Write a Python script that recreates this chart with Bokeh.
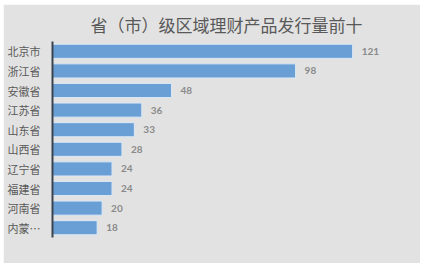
from bokeh.plotting import figure
from bokeh.models import ColumnDataSource, LabelSet, Range1d
from bokeh.core.properties import value
from bokeh.embed import file_html
from bokeh.resources import INLINE

categories = ["北京市", "浙江省", "安徽省", "江苏省", "山东省", "山西省", "辽宁省", "福建省", "河南省", "内蒙…"]
values = [121, 98, 48, 36, 33, 28, 24, 24, 20, 18]
title_text = "省（市）级区域理财产品发行量前十"

FONT = "Noto Sans CJK SC"
BG = "#e2e2e2"

src = ColumnDataSource(dict(cat=categories, val=values, lbl=[str(v) for v in values]))

p = figure(
    width=417, height=259,
    y_range=list(reversed(categories)),
    x_range=Range1d(0, 140.3),
    output_backend="svg", toolbar_location=None,
    min_border_left=49, min_border_right=20, min_border_top=36, min_border_bottom=26,
    background_fill_color=BG, border_fill_color=BG,
    outline_line_color=BG, outline_line_width=2,
)
p.margin = (4, 2, 4, 3)

p.title.text = title_text
p.title.align = "center"
p.title.text_font = FONT
p.title.text_font_size = "17px"
p.title.text_font_style = "normal"
p.title.text_color = "#595959"

p.hbar(y="cat", right="val", left=0, height=0.72, source=src,
       fill_color="#6a9fd6", line_color="#dbe8f6", line_width=1)

labels = LabelSet(x="val", y="cat", text="lbl", source=src, x_offset=9,
                  text_baseline="middle", text_font=value("Lato"), text_font_size="10px",
                  text_font_style="bold", text_color="#8a8a8a")
p.add_layout(labels)

p.xaxis.visible = False
p.xgrid.visible = False
p.ygrid.visible = False
p.yaxis.axis_line_color = "#3a4350"
p.yaxis.axis_line_width = 2
p.yaxis.major_tick_line_color = None
p.yaxis.minor_tick_line_color = None
p.yaxis.major_label_text_font = FONT
p.yaxis.major_label_text_font_size = "11px"
p.yaxis.major_label_text_color = "#595959"
p.yaxis.major_label_standoff = 6

open("out.html", "w").write(file_html(p, INLINE))
